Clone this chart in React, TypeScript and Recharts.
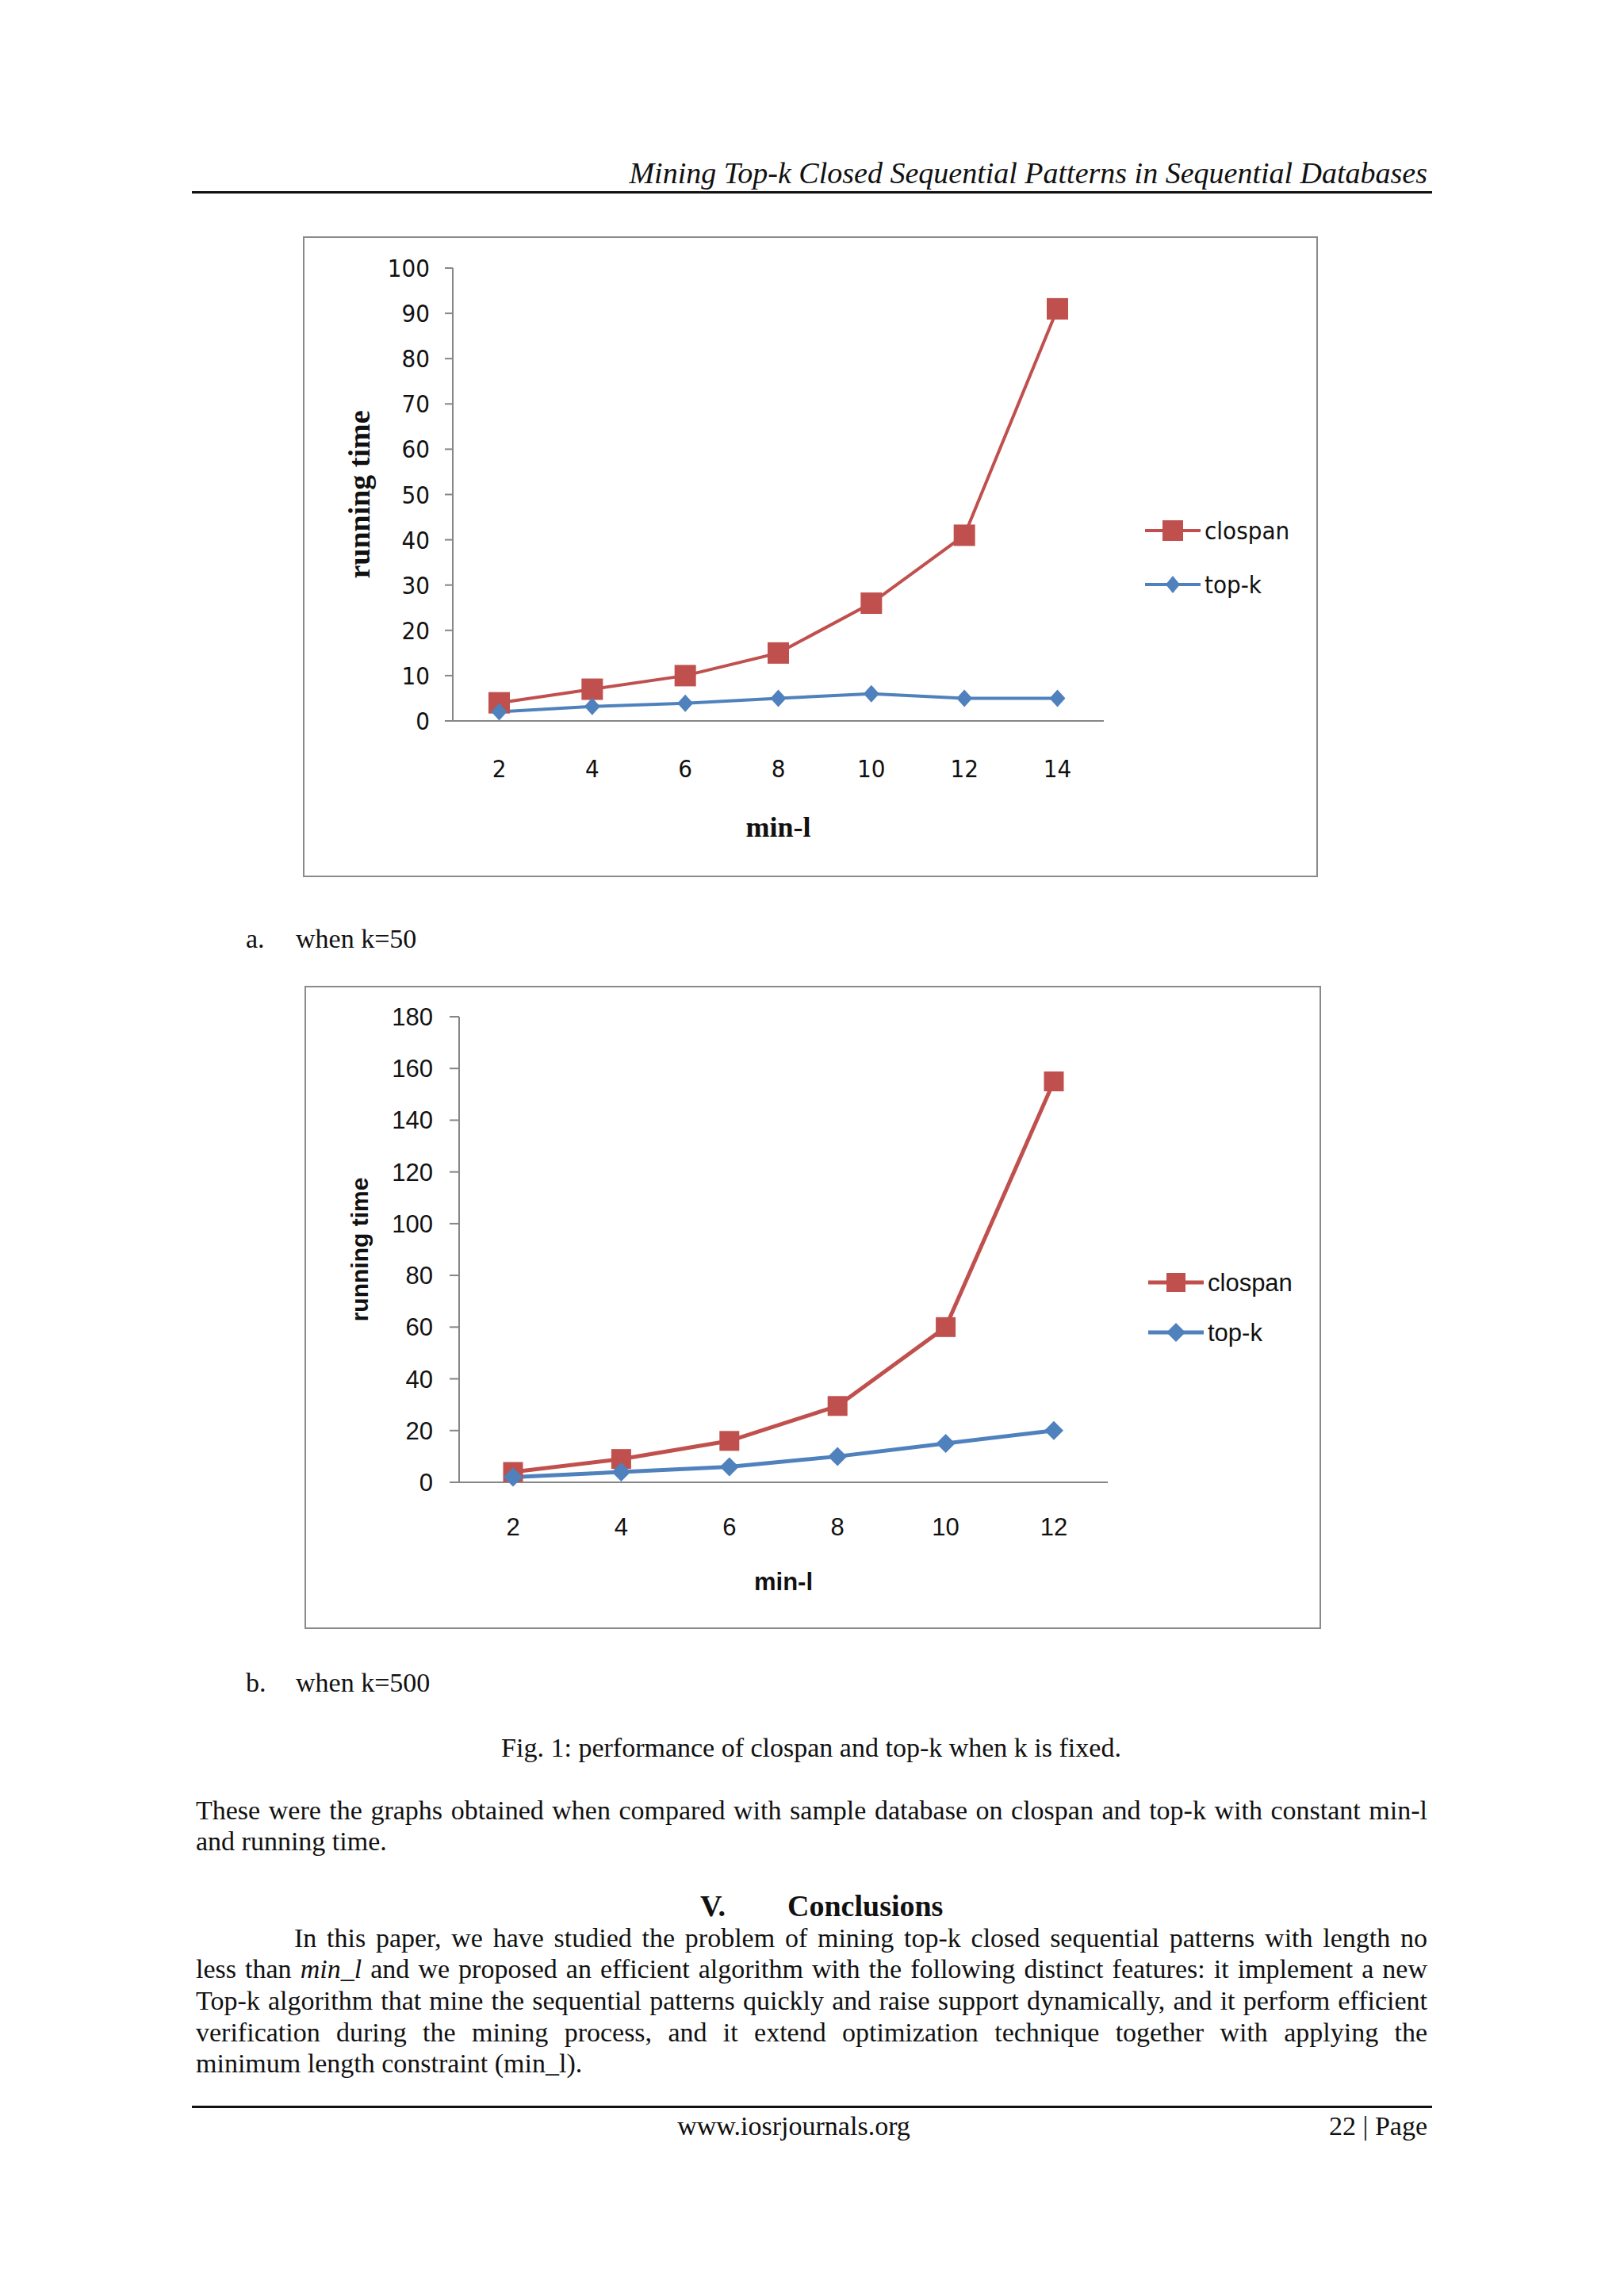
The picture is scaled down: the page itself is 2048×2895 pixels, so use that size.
import React from 'react';
import { LineChart, Line, XAxis, YAxis, Legend, Label } from 'recharts';

// ---------- data ----------
const minL1 = [2, 4, 6, 8, 10, 12, 14];
const clospan1 = [4, 7, 10, 15, 26, 41, 91];
const topk1 = [2, 3.2, 3.9, 5, 6, 5, 5];
const yTicks1 = [0, 10, 20, 30, 40, 50, 60, 70, 80, 90, 100];

const minL2 = [2, 4, 6, 8, 10, 12];
const clospan2 = [4, 9, 16, 29.5, 60, 155];
const topk2 = [2, 4, 6, 10, 15, 20];
const yTicks2 = [0, 20, 40, 60, 80, 100, 120, 140, 160, 180];

const seriesNames = ['clospan', 'top-k'];

const data1 = minL1.map((x, i) => ({ x, clospan: clospan1[i], topk: topk1[i] }));
const data2 = minL2.map((x, i) => ({ x, clospan: clospan2[i], topk: topk2[i] }));

const RED = '#C0504D';
const BLUE = '#4F81BD';
const AXIS = '#868686';

const squareDot = (size: number) => (props: any) => {
  const { cx, cy, index } = props;
  if (cx == null || cy == null) return <g key={index} />;
  return <rect key={index} x={cx - size / 2} y={cy - size / 2} width={size} height={size} fill={RED} />;
};
const diamondDot = (w: number, h: number) => (props: any) => {
  const { cx, cy, index } = props;
  if (cx == null || cy == null) return <g key={index} />;
  return (
    <path key={index} d={`M${cx},${cy - h} L${cx + w},${cy} L${cx},${cy + h} L${cx - w},${cy} Z`} fill={BLUE} />
  );
};

const makeLegend = (opts: { rowGap: number; font: string; size: number; sq: number; dw: number; dh: number; sw: number }) => (props: any) => {
  const { payload } = props;
  const items = payload || [];
  return (
    <svg width={230} height={40 + opts.rowGap + 40} style={{ display: 'block' }}>
      {items.map((it: any, i: number) => {
        const cy = 35 + i * opts.rowGap;
        const isSq = it.dataKey === 'clospan';
        const col = isSq ? RED : BLUE;
        return (
          <g key={i}>
            <line x1={0} x2={70} y1={cy} y2={cy} stroke={col} strokeWidth={opts.sw} />
            {isSq ? (
              <rect x={35 - opts.sq / 2} y={cy - opts.sq / 2} width={opts.sq} height={opts.sq} fill={col} />
            ) : (
              <path d={`M35,${cy - opts.dh} L${35 + opts.dw},${cy} L35,${cy + opts.dh} L${35 - opts.dw},${cy} Z`} fill={col} />
            )}
            <text x={75} y={cy} dominantBaseline="central" fontFamily={opts.font} fontSize={opts.size} fill="#111">
              {it.value}
            </text>
          </g>
        );
      })}
    </svg>
  );
};

const abs = (s: React.CSSProperties): React.CSSProperties => ({ position: 'absolute', whiteSpace: 'nowrap', ...s });

const BODY = 34;
const lineTop = (c: number) => c - 20;

export default function App() {
  const font1 = "'DejaVu Sans Condensed', 'DejaVu Sans', Verdana, sans-serif";
  const font2 = "'Liberation Sans', Arial, sans-serif";
  const serif = "'Liberation Serif', 'Times New Roman', serif";
  const txt = { fontFamily: serif, fontSize: BODY, lineHeight: '40px', color: '#111' };
  const just: React.CSSProperties = { textAlign: 'justify', textAlignLast: 'justify' };

  return (
    <div style={{ position: 'absolute', left: 0, top: 0, width: 2048, height: 2895, background: '#fff', overflow: 'hidden' }}>
      {/* header */}
      <div style={abs({ right: 248, top: 196, fontFamily: serif, fontStyle: 'italic', fontSize: 38, lineHeight: '44px', color: '#111' })}>
        Mining Top-k Closed Sequential Patterns in Sequential Databases
      </div>
      <div style={abs({ left: 242, top: 241, width: 1564, height: 3, background: '#111' })} />

      {/* chart 1 */}
      <div style={abs({ left: 382, top: 298, width: 1276, height: 804, border: '2px solid #8a8a8a' })} />
      <div style={abs({ left: 382, top: 298 })}>
        <LineChart width={1280} height={808} data={data1} margin={{ top: 40, right: 270, left: 0, bottom: 0 }}>
          <XAxis
            dataKey="x"
            type="category"
            height={197}
            padding={{ left: 58.5, right: 58.5 }}
            axisLine={{ stroke: AXIS, strokeWidth: 2 }}
            tickLine={false}
            tickSize={0}
            tickMargin={49}
            tick={{ fontFamily: font1, fontSize: 31, fill: '#111' }}
          >
            <Label value="min-l" position="insideBottom" offset={51} style={{ fontFamily: serif, fontWeight: 'bold', fontSize: 36, fill: '#111' }} />
          </XAxis>
          <YAxis
            width={189}
            domain={[0, 100]}
            ticks={yTicks1}
            interval={0}
            axisLine={{ stroke: AXIS, strokeWidth: 2 }}
            tickLine={{ stroke: AXIS, strokeWidth: 2 }}
            tickSize={10}
            tickMargin={19}
            tick={{ fontFamily: font1, fontSize: 31, fill: '#111' }}
          >
            <Label value="running time" angle={-90} position="insideLeft" offset={71} style={{ textAnchor: 'middle', fontFamily: serif, fontWeight: 'bold', fontSize: 38, fill: '#111' }} />
          </YAxis>
          <Legend
            layout="vertical"
            align="center"
            verticalAlign="middle"
            content={makeLegend({ rowGap: 68, font: font1, size: 31, sq: 26, dw: 9, dh: 11, sw: 4 })}
            wrapperStyle={{ left: 1062, top: 336, width: 230 }}
          />
          <Line name={seriesNames[0]} dataKey="clospan" stroke={RED} strokeWidth={4} dot={squareDot(27)} isAnimationActive={false} />
          <Line name={seriesNames[1]} dataKey="topk" stroke={BLUE} strokeWidth={4} dot={diamondDot(10, 11)} isAnimationActive={false} />
        </LineChart>
      </div>

      <div style={abs({ ...txt, left: 310, top: lineTop(1184) })}>a.</div>
      <div style={abs({ ...txt, left: 373, top: lineTop(1184) })}>when k=50</div>

      {/* chart 2 */}
      <div style={abs({ left: 384, top: 1243, width: 1278, height: 807, border: '2px solid #8a8a8a' })} />
      <div style={abs({ left: 384, top: 1243 })}>
        <LineChart width={1282} height={811} data={data2} margin={{ top: 39, right: 269, left: 0, bottom: 0 }}>
          <XAxis
            dataKey="x"
            type="category"
            height={185}
            padding={{ left: 68, right: 68 }}
            axisLine={{ stroke: AXIS, strokeWidth: 2 }}
            tickLine={false}
            tickSize={0}
            tickMargin={45}
            tick={{ fontFamily: font2, fontSize: 31, fill: '#111' }}
          >
            <Label value="min-l" position="insideBottom" offset={49} style={{ fontFamily: font2, fontWeight: 'bold', fontSize: 31, fill: '#111' }} />
          </XAxis>
          <YAxis
            width={195}
            domain={[0, 180]}
            ticks={yTicks2}
            interval={0}
            axisLine={{ stroke: AXIS, strokeWidth: 2 }}
            tickLine={{ stroke: AXIS, strokeWidth: 2 }}
            tickSize={12}
            tickMargin={21}
            tick={{ fontFamily: font2, fontSize: 31, fill: '#111' }}
          >
            <Label value="running time" angle={-90} position="insideLeft" offset={69} style={{ textAnchor: 'middle', fontFamily: font2, fontWeight: 'bold', fontSize: 30, fill: '#111' }} />
          </YAxis>
          <Legend
            layout="vertical"
            align="center"
            verticalAlign="middle"
            content={makeLegend({ rowGap: 63, font: font2, size: 31, sq: 24, dw: 12, dh: 12, sw: 5 })}
            wrapperStyle={{ left: 1064, top: 339, width: 230 }}
          />
          <Line name={seriesNames[0]} dataKey="clospan" stroke={RED} strokeWidth={5} dot={squareDot(25)} isAnimationActive={false} />
          <Line name={seriesNames[1]} dataKey="topk" stroke={BLUE} strokeWidth={5} dot={diamondDot(12, 12)} isAnimationActive={false} />
        </LineChart>
      </div>

      <div style={abs({ ...txt, left: 310, top: lineTop(2122) })}>b.</div>
      <div style={abs({ ...txt, left: 373, top: lineTop(2122) })}>when k=500</div>

      <div style={abs({ ...txt, left: 0, width: 2046, textAlign: 'center', top: lineTop(2204) })}>
        Fig. 1: performance of clospan and top-k when k is fixed.
      </div>

      <div style={abs({ ...txt, ...just, left: 247, width: 1553, top: lineTop(2283) })}>
        These were the graphs obtained when compared with sample database on clospan and top-k with constant min-l
      </div>
      <div style={abs({ ...txt, left: 247, top: lineTop(2322) })}>and running time.</div>

      <div style={abs({ ...txt, fontWeight: 'bold', fontSize: 38, left: 883, top: lineTop(2403) })}>V.</div>
      <div style={abs({ ...txt, fontWeight: 'bold', fontSize: 38, left: 993, top: lineTop(2403) })}>Conclusions</div>

      <div style={abs({ ...txt, ...just, left: 371, width: 1429, top: lineTop(2444) })}>
        In this paper, we have studied the problem of mining top-k closed sequential patterns with length no
      </div>
      <div style={abs({ ...txt, ...just, left: 247, width: 1553, top: lineTop(2483) })}>
        less than <i>min_l</i> and we proposed an efficient algorithm with the following distinct features: it implement a new
      </div>
      <div style={abs({ ...txt, ...just, left: 247, width: 1553, top: lineTop(2523) })}>
        Top-k algorithm that mine the sequential patterns quickly and raise support dynamically, and it perform efficient
      </div>
      <div style={abs({ ...txt, ...just, left: 247, width: 1553, top: lineTop(2563) })}>
        verification during the mining process, and it extend optimization technique together with applying the
      </div>
      <div style={abs({ ...txt, left: 247, top: lineTop(2602) })}>minimum length constraint (min_l).</div>

      {/* footer */}
      <div style={abs({ left: 242, top: 2655, width: 1564, height: 3, background: '#111' })} />
      <div style={abs({ ...txt, left: 0, width: 2002, textAlign: 'center', top: lineTop(2681) })}>www.iosrjournals.org</div>
      <div style={abs({ ...txt, right: 248, top: lineTop(2681) })}>22 | Page</div>
    </div>
  );
}
